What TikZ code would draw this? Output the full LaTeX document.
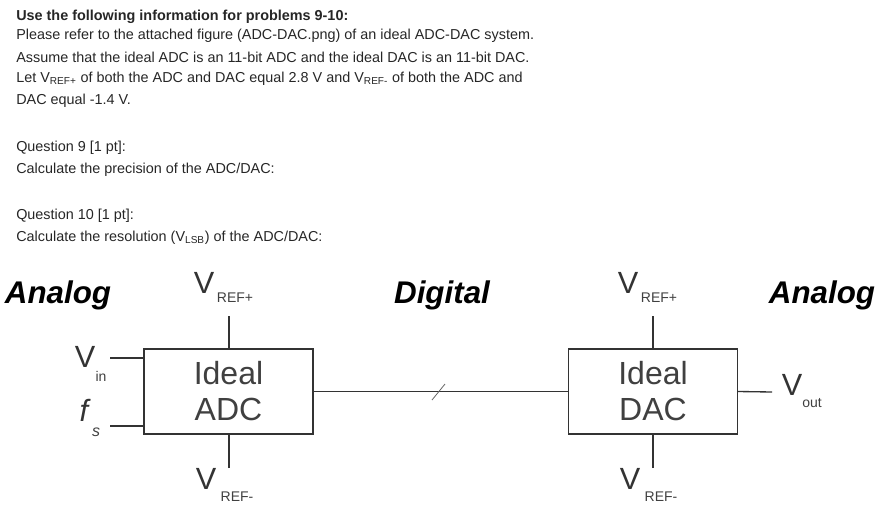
\documentclass[tikz,border=0pt]{standalone}
\usepackage{fontspec}
\setmainfont{Liberation Sans}
\begin{document}
\begin{tikzpicture}[x=0.75pt,y=-0.75pt,
  txt/.style={anchor=west,inner sep=0pt,font=\fontsize{10.8}{12}\selectfont,text=black!85},
  box/.style={draw=black!80,line width=1pt,minimum width=169*0.75pt,minimum height=85*0.75pt,align=center,font=\fontsize{24}{27}\selectfont,text=black!75},
  wire/.style={draw=black!80,line width=1pt},
  big/.style={font=\fontsize{23.5}{23.5}\selectfont\bfseries\itshape},
  lbl/.style={inner sep=0pt,font=\fontsize{23}{23}\selectfont,text=black!80},
  sub/.style={inner sep=0pt,font=\fontsize{10.5}{11}\selectfont,text=black!75}]
\useasboundingbox (0,0) rectangle (881,511);
\node[txt,font=\fontsize{10.8}{12}\selectfont\bfseries] (t0) at (16,17) {Use the following information for problems 9-10:};
\node[txt] (t1) at (16,36) {Please refer to the attached figure (ADC-DAC.png) of an ideal ADC-DAC system.};
\node[txt] (t2) at (16,57) {Assume that the ideal ADC is an 11-bit ADC and the ideal DAC is an 11-bit DAC.};
\node[txt] (t3) at (16,79) {Let V\textsubscript{REF+} of both the ADC and DAC equal 2.8 V and V\textsubscript{REF-} of both the ADC and};
\node[txt] (t4) at (16,101) {DAC equal -1.4 V.};
\node[txt] (t5) at (16,148) {Question 9 [1 pt]:};
\node[txt] (t6) at (16,170) {Calculate the precision of the ADC/DAC:};
\node[txt] (t7) at (16,216) {Question 10 [1 pt]:};
\node[txt] (t8) at (16,238) {Calculate the resolution (V\textsubscript{LSB}) of the ADC/DAC:};

\node[box] (adc) at (228.5,391.5) {Ideal\\ADC};
\node[box] (dac) at (653,391.5) {Ideal\\DAC};
\node[big] (a1) at (58,295) {Analog};
\node[big] (dg) at (442,295) {Digital};
\node[big] (a2) at (822,295) {Analog};

\coordinate (vin) at (110,358);
\coordinate (fs) at (110,426);
\draw[wire] (vin) -- (vin -| adc.west);
\draw[wire] (fs) -- (fs -| adc.west);
\node[lbl] (vinl) at (85,357) {V};
\node[sub] (vins) at (101,376) {in};
\node[lbl,font=\fontsize{23}{23}\selectfont\itshape] (fsl) at (84,410) {f};
\node[sub,font=\fontsize{12}{12}\selectfont\itshape] (fss) at (96,432) {s};

\foreach \b/\x in {adc/229,dac/653}{
  \coordinate (\b t) at (\x,316);
  \coordinate (\b b) at (\x,468);
  \draw[wire] (\b t) -- (\b t |- \b.north);
  \draw[wire] (\b b) -- (\b b |- \b.south);
  \node[lbl] (\b vp) at (\x-25,283) {V};
  \node[sub] (\b vps) at (\x+6,298) {REF+};
  \node[lbl] (\b vm) at (\x-23,479) {V};
  \node[sub] (\b vms) at (\x+8,497) {REF-};
}
\draw[wire] (adc.east) -- (dac.west);
\draw[draw=black!60,line width=0.6pt] (432,400) -- (445,384);
\coordinate (vo) at (772,392);
\draw[wire] (dac.east) -- (vo);
\node[lbl] (vol) at (792,385) {V};
\node[sub] (vos) at (812,403) {out};
\end{tikzpicture}
\end{document}
